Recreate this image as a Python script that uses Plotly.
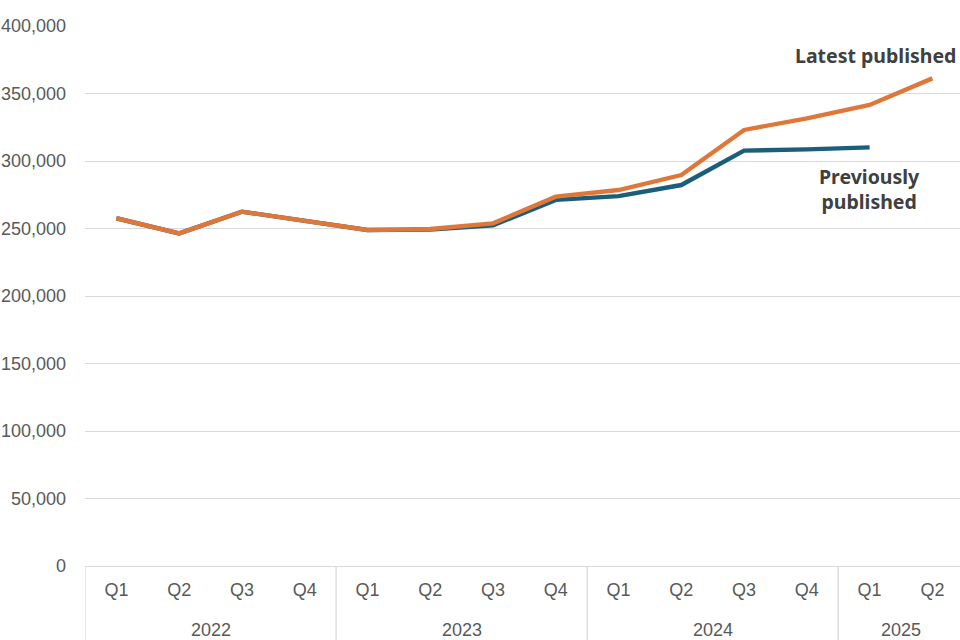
import plotly.graph_objects as go

years = ["2022"] * 4 + ["2023"] * 4 + ["2024"] * 4 + ["2025"] * 2
quarters = ["Q1", "Q2", "Q3", "Q4"] * 3 + ["Q1", "Q2"]
year_groups = ["2022", "2023", "2024", "2025"]

latest = [257600, 246400, 262500, 255800, 248900, 249600, 253800, 273600,
          278500, 289600, 323000, 331600, 341500, 361200]
previous = [257600, 246400, 262500, 255800, 248900, 249200, 252300, 271200,
            274000, 282200, 307700, 308600, 310100]

y_ticks = [0, 50000, 100000, 150000, 200000, 250000, 300000, 350000, 400000]
y_tick_labels = ["0", "50,000", "100,000", "150,000", "200,000", "250,000",
                 "300,000", "350,000", "400,000"]

ORANGE = "#E0773A"
BLUE = "#1B5E7B"
TICK = "#595959"
GRID = "#D9D9D9"
LABEL = "#404040"

cats = [f"{y} {q}" for y, q in zip(years, quarters)]

fig = go.Figure()
fig.add_trace(go.Scatter(
    x=cats[:len(previous)], y=previous,
    mode="lines", line=dict(color=BLUE, width=4.4), name="Previously published",
    showlegend=False, hoverinfo="skip"))
fig.add_trace(go.Scatter(
    x=cats, y=latest,
    mode="lines", line=dict(color=ORANGE, width=4.4), name="Latest published",
    showlegend=False, hoverinfo="skip"))

# year group labels and dividers
H = 540.0
pos = 0
for yr in year_groups:
    n = years.count(yr)
    fig.add_annotation(text=yr, xref="x", yref="paper", x=pos + (n - 1) / 2,
                       y=-(630 - 566) / H, xanchor="center", yanchor="middle",
                       showarrow=False,
                       font=dict(family="Liberation Sans", size=18, color=TICK))
    fig.add_shape(type="line", xref="x", yref="paper", x0=pos - 0.5, x1=pos - 0.5,
                  y0=0, y1=-(640 - 566) / H, line=dict(color=GRID, width=1.3))
    pos += n

fig.add_annotation(text="<b>Latest published</b>", xref="x", yref="y",
                   x=len(cats) - 1, y=377800, xanchor="right", yanchor="middle",
                   xshift=26, showarrow=False,
                   font=dict(family="Noto Sans", size=19.5, color=LABEL))
fig.add_annotation(text="<b>Previously<br>published</b>", xref="x", yref="y",
                   x=len(cats) - 2, y=279000, xanchor="center", yanchor="middle",
                   showarrow=False, align="center",
                   font=dict(family="Noto Sans", size=19.5, color=LABEL))

fig.update_layout(
    width=960, height=640,
    margin=dict(l=85, r=0, t=26, b=74),
    paper_bgcolor="white", plot_bgcolor="white",
    font=dict(family="Liberation Sans", size=18, color=TICK),
    xaxis=dict(type="category", tickvals=cats, ticktext=quarters,
               showline=True, linecolor=GRID, linewidth=1.3,
               showgrid=False, automargin=False, ticks="",
               ticklabelstandoff=7,
               tickfont=dict(size=18, color=TICK),
               range=[-0.5, len(cats) - 0.56]),
    yaxis=dict(range=[0, 400000], tickvals=y_ticks, ticktext=y_tick_labels,
               showgrid=True, gridcolor=GRID, gridwidth=1.3, zeroline=False,
               showline=False, ticklabelstandoff=18, automargin=False,
               tickfont=dict(size=18, color=TICK)),
)

fig.write_html("out.html", config={"displayModeBar": False},
               post_script="document.body.style.margin='0';document.body.style.overflow='hidden';")
